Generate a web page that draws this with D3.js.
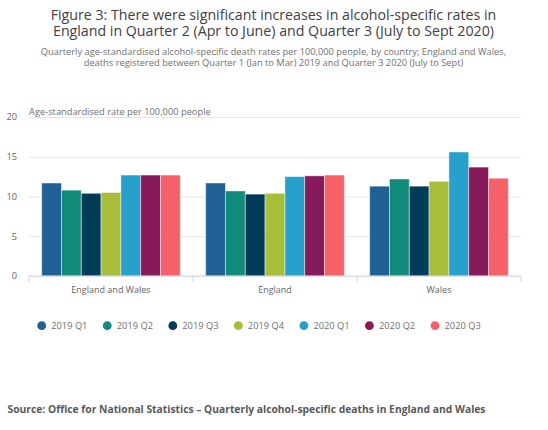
<!DOCTYPE html>
<html>
<head>
<meta charset="utf-8">
<script src="https://cdn.jsdelivr.net/npm/d3@7"></script>
<style>
  body { margin: 0; background: #fff; font-family: "Open Sans", sans-serif; }
</style>
</head>
<body>
<svg id="chart" width="548" height="430"></svg>
<script>
// chart data
const countries = ["England and Wales", "England", "Wales"];
const quarters = ["2019 Q1", "2019 Q2", "2019 Q3", "2019 Q4", "2020 Q1", "2020 Q2", "2020 Q3"];
const rates = [
  [11.7, 10.8, 10.4, 10.5, 12.7, 12.7, 12.7],
  [11.7, 10.7, 10.3, 10.4, 12.5, 12.6, 12.7],
  [11.3, 12.2, 11.3, 11.9, 15.6, 13.7, 12.3]
];
const yTicks = [0, 5, 10, 15, 20];
const colours = ["#206095", "#118c7b", "#003c57", "#a8bd3a", "#27a0cc", "#871a5b", "#f66068"];

const svg = d3.select("#chart");
const margin = { left: 29, right: 27, top: 117, bottom: 154 };
const width = 548 - margin.left - margin.right;
const height = 430 - margin.top - margin.bottom;

// title + subtitle
const title = ["Figure 3: There were significant increases in alcohol-specific rates in",
               "England in Quarter 2 (Apr to June) and Quarter 3 (July to Sept 2020)"];
svg.selectAll(".title").data(title).enter().append("text")
  .attr("x", 273.5).attr("y", (d, i) => 20 + i * 15.5)
  .attr("text-anchor", "middle").attr("font-size", 14.2).attr("fill", "#414042")
  .text(d => d);

const subtitle = ["Quarterly age-standardised alcohol-specific death rates per 100,000 people, by country; England and Wales,",
                  "deaths registered between Quarter 1 (Jan to Mar) 2019 and Quarter 3 2020 (July to Sept)"];
svg.selectAll(".sub").data(subtitle).enter().append("text")
  .attr("x", 273.5).attr("y", (d, i) => 54.5 + i * 11.2)
  .attr("text-anchor", "middle").attr("font-size", 9.3).attr("fill", "#707070")
  .text(d => d);

const g = svg.append("g").attr("transform", `translate(${margin.left},${margin.top})`);

const x0 = d3.scaleBand().domain(countries).range([0, width]).paddingInner(0).paddingOuter(0);
const x1 = d3.scaleBand().domain(quarters).range([0, x0.bandwidth()]).paddingInner(0).paddingOuter(0.64);
const y = d3.scaleLinear().domain([0, 20]).range([height, 0]);

// gridlines
g.append("g")
  .call(d3.axisLeft(y).tickValues(yTicks).tickSize(-width).tickFormat(d => d))
  .call(a => a.select(".domain").remove())
  .call(a => a.selectAll("line").attr("stroke", "#e6e6e6"))
  .call(a => a.selectAll("text").attr("x", -12).attr("fill", "#666")
    .attr("font-size", 9.2).attr("font-family", "Open Sans"));

g.append("text").attr("x", 0).attr("y", -2.5)
  .attr("font-size", 9.3).attr("fill", "#707070")
  .text("Age-standardised rate per 100,000 people");

// bars
const groups = g.selectAll(".grp").data(countries).enter().append("g")
  .attr("transform", d => `translate(${x0(d)},0)`);
groups.selectAll("rect").data((d, i) => rates[i].map((v, j) => ({ q: quarters[j], v, c: colours[j] })))
  .enter().append("rect")
  .attr("x", d => x1(d.q)).attr("width", x1.bandwidth())
  .attr("y", d => y(d.v)).attr("height", d => height - y(d.v))
  .attr("fill", d => d.c).attr("stroke", "#fff").attr("stroke-opacity", 0.45).attr("stroke-width", 1);

// x axis
const xAxis = g.append("g").attr("transform", `translate(0,${height})`);
xAxis.append("line").attr("x1", 0).attr("x2", width).attr("stroke", "#ccd6eb");
xAxis.selectAll(".tk").data([0, 1, 2, 3]).enter().append("line")
  .attr("x1", d => d * x0.bandwidth()).attr("x2", d => d * x0.bandwidth())
  .attr("y1", 0).attr("y2", 6).attr("stroke", "#ccd6eb");
xAxis.selectAll(".lbl").data(countries).enter().append("text")
  .attr("x", d => x0(d) + x0.bandwidth() / 2).attr("y", 16.5)
  .attr("text-anchor", "middle").attr("font-size", 9).attr("fill", "#666")
  .text(d => d);

// legend
const leg = svg.append("g").attr("transform", "translate(41.7,325.7)");
const items = leg.selectAll("g").data(quarters).enter().append("g")
  .attr("transform", (d, i) => `translate(${i * 65.55},0)`);
items.append("circle").attr("r", 4.4).attr("fill", (d, i) => colours[i]);
items.append("text").attr("x", 9.5).attr("y", 3.2).attr("font-size", 9.3).attr("fill", "#707070").text(d => d);

// source
svg.append("text").attr("x", 7.5).attr("y", 412.5)
  .attr("font-size", 10.3).attr("font-weight", "bold").attr("fill", "#595959")
  .text("Source: Office for National Statistics \u2013 Quarterly alcohol-specific deaths in England and Wales");
</script>
</body>
</html>
